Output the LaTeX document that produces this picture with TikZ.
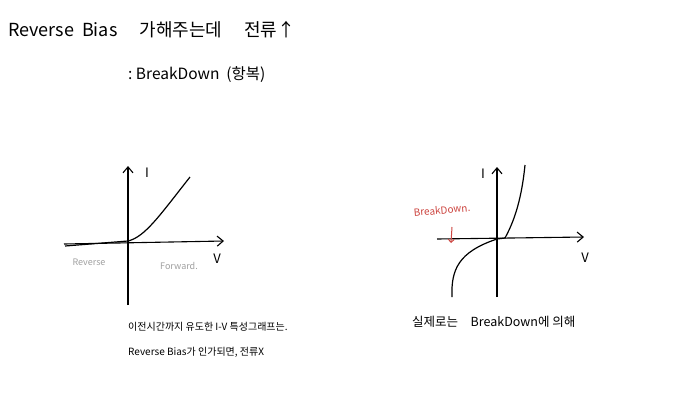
\documentclass[tikz,border=0pt]{standalone}
\usepackage{fontspec}
\setmainfont{Noto Sans CJK KR}
\usetikzlibrary{arrows.meta}
\definecolor{gtxt}{RGB}{160,160,160}
\definecolor{rtxt}{RGB}{205,70,65}
\tikzset{
  axis/.style={line width=1.1pt, -{Straight Barb[length=6pt,width=10pt]}},
  curve/.style={line width=1.2pt},
  lbl/.style={inner sep=0pt, font=\fontsize{13}{15}\selectfont},
  captxt/.style={inner sep=0pt, anchor=west, font=\fontsize{10}{12}\selectfont},
}
\begin{document}
\begin{tikzpicture}[x=1pt,y=-1pt]
\useasboundingbox[fill=white] (0,0) rectangle (682,400);
% title
\node[inner sep=0pt, anchor=west, font=\fontsize{18}{20}\selectfont] (t1) at (8,30) {Reverse\ \ Bias\quad\ 가해주는데\quad\ 전류↑};
\node[inner sep=0pt, anchor=west, font=\fontsize{15.5}{18}\selectfont] (t2) at (128,75) {:\ BreakDown\ \ (항복)};
% left graph
\coordinate (lo) at (128,241);
\coordinate (lyb) at (128,305);
\coordinate (lyt) at (128,166);
\coordinate (lxl) at (64,244);
\coordinate (lxr) at (224,241);
\draw[axis] (lyb) -- (lyt);
\draw[axis] (lxl) -- (lxr);
\draw[curve] (65,246) -- (lo) .. controls (145,237) and (160,215) .. (190,177);
\node[lbl] (lI) at (147,173) {I};
\node[lbl] (lV) at (217,259) {V};
\node[lbl, text=gtxt, font=\fontsize{9}{11}\selectfont] (lrev) at (89,262) {Reverse};
\node[lbl, text=gtxt, font=\fontsize{9}{11}\selectfont] (lfwd) at (179,266) {Forward.};
% right graph
\coordinate (ro) at (497,239);
\coordinate (ryb) at (497,297);
\coordinate (ryt) at (497,167);
\coordinate (rxl) at (437,239);
\coordinate (rxr) at (584,237);
\draw[axis] (ryb) -- (ryt);
\draw[axis] (rxl) -- (rxr);
\draw[curve] (452,297) .. controls (451,270) and (458,252) .. (ro) -- (505,238) .. controls (512,225) and (521,205) .. (525,165);
\node[lbl] (rI) at (483,174) {I};
\node[lbl] (rV) at (585,258) {V};
\node[lbl, text=rtxt, rotate=5, font=\fontsize{10}{12}\selectfont] (rbd) at (442,210) {BreakDown.};
\coordinate (rarr) at (451,243);
\draw[rtxt, line width=1pt, -{Straight Barb[length=3pt,width=6pt]}] (452,227) -- (rarr);
% captions
\node[captxt] (c1) at (128,327) {이전시간까지 유도한 I-V 특성그래프는.};
\node[captxt] (c2) at (128,352) {Reverse Bias가 인가되면, 전류X};
\node[captxt, font=\fontsize{12.5}{14}\selectfont] (c3) at (412,322) {실제로는\quad BreakDown에 의해};
\end{tikzpicture}
\end{document}
